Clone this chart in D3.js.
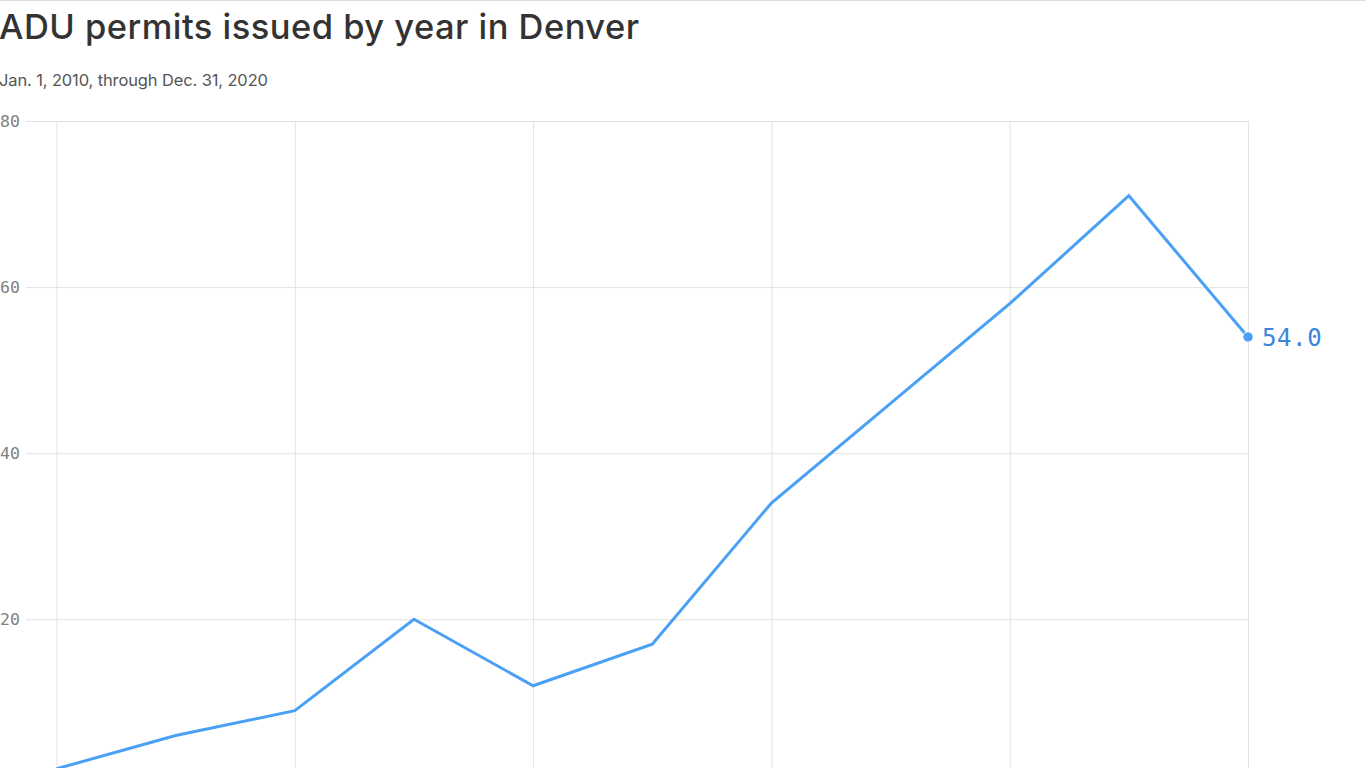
<!DOCTYPE html>
<html><head><meta charset="utf-8">
<script src="https://cdn.jsdelivr.net/npm/d3@7"></script>
<style>
html,body{margin:0;padding:0;background:#fff;overflow:hidden;}
</style></head>
<body>
<svg id="chart" width="1366" height="768"></svg>
<script>
const years = [2010,2011,2012,2013,2014,2015,2016,2017,2018,2019,2020];
const permits = [2,6,9,20,12,17,34,46,58,71,54];
const yTicks = [20,40,60,80];
const xGridYears = [2010,2012,2014,2016,2018,2020];
const title = "ADU permits issued by year in Denver";
const subtitle = "Jan. 1, 2010, through Dec. 31, 2020";

const svg = d3.select("#chart");
svg.append("rect").attr("x",0).attr("y",0).attr("width",1366).attr("height",1).attr("fill","#dcdcdc");

svg.append("text").attr("x",-1).attr("y",39)
  .attr("font-family","Inter, 'Noto Sans', sans-serif").attr("font-size",34.5).attr("font-weight",500)
  .attr("fill","#333").attr("textLength",640).attr("lengthAdjust","spacing").text(title);
svg.append("text").attr("x",-1).attr("y",86)
  .attr("font-family","Inter, 'Noto Sans', sans-serif").attr("font-size",16.5)
  .attr("fill","#555").attr("textLength",269).attr("lengthAdjust","spacing").text(subtitle);

const x = d3.scaleLinear().domain([2010,2020]).range([56.5,1248]);
const y = d3.scaleLinear().domain([0,80]).range([785.4,121]);

const g = svg.append("g");
// horizontal grid
g.append("g").attr("transform","translate(1248,0)")
  .call(d3.axisLeft(y).tickValues(yTicks).tickSize(1248-26).tickFormat(d=>d).tickPadding(8))
  .call(a=>a.select(".domain").remove())
  .call(a=>a.selectAll("line").attr("stroke","#e3e3e3").attr("stroke-width",1))
  .call(a=>a.selectAll("text").attr("font-family","'DejaVu Sans Mono', monospace").attr("font-size",16.5).attr("fill","#808080")
    .attr("text-anchor","start").attr("x",-1248+0));

// vertical grid
g.append("g").attr("transform","translate(0,121)")
  .call(d3.axisBottom(x).tickValues(xGridYears).tickSize(800).tickFormat(""))
  .call(a=>a.select(".domain").remove())
  .call(a=>a.selectAll("line").attr("stroke","#e3e3e3").attr("stroke-width",1));

const line = d3.line().x((d,i)=>x(years[i])).y(d=>y(d));
svg.append("path").datum(permits).attr("d",line)
  .attr("fill","none").attr("stroke","#4aa0f5").attr("stroke-width",3).attr("stroke-linejoin","miter");

const last = permits.length-1;
svg.append("circle").attr("cx",x(years[last])).attr("cy",y(permits[last])).attr("r",5.2)
  .attr("fill","#4aa0f5").attr("stroke","#fff").attr("stroke-width",1);
svg.append("text").attr("x",x(years[last])+14).attr("y",y(permits[last]))
  .attr("dy","0.36em").attr("font-family","'DejaVu Sans Mono', monospace").attr("font-size",24)
  .attr("letter-spacing",0.6).attr("fill","#3a86dc").text(d3.format(".1f")(permits[last]));
</script>
</body></html>
